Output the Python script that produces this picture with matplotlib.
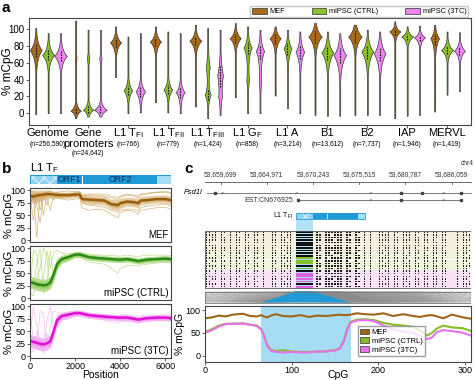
import numpy as np
import matplotlib
matplotlib.use('Agg')
import matplotlib.pyplot as plt
from matplotlib.patches import Rectangle, Patch, Polygon
from matplotlib.collections import LineCollection
import matplotlib.transforms as mtransforms

plt.rcParams['font.family'] = ['Liberation Sans', 'DejaVu Sans']
plt.rcParams['mathtext.fontset'] = 'custom'
plt.rcParams['mathtext.rm'] = 'Liberation Sans'
plt.rcParams['mathtext.it'] = 'Liberation Sans:italic'

# ---------------- DATA: panel a ----------------
groups = ["Genome", "Gene\npromoters", "L1 T$_{\\rm FI}$", "L1 T$_{\\rm FII}$", "L1 T$_{\\rm FIII}$",
          "L1 G$_{\\rm F}$", "L1 A", "B1", "B2", "IAP", "MERVL"]
group_n = ["(n=256,590)", "(n=24,642)", "(n=766)", "(n=779)", "(n=1,424)", "(n=858)",
           "(n=3,214)", "(n=13,612)", "(n=7,737)", "(n=1,946)", "(n=1,419)"]
cell_types = ["MEF", "miPSC (CTRL)", "miPSC (3TC)"]

# per cell type: mode, half width, upper spread, lower spread, min, max, second mode, its width, its spread
mef_center = [75, 3, 84, 85, 86, 89, 89, 91, 91, 97, 89]
mef_width = [0.15, 0.13, 0.14, 0.14, 0.15, 0.14, 0.14, 0.17, 0.17, 0.14, 0.11]
mef_sup = [9, 5, 6, 6, 6, 6, 6, 8, 8, 4, 7]
mef_sdn = [10, 4, 7, 7, 7, 7, 8, 9, 9, 5, 10]
mef_min = [-1, -6, 43, 13, 8, 19, 21, -2, -2, -6, 2]
mef_max = [101, 110, 103, 103, 105, 107, 103, 107, 105, 109, 105]
mef_c2 = [50, 65, 50, 50, 50, 50, 50, 50, 50, 50, 50]
mef_w2 = [0, 0.02, 0, 0, 0, 0, 0, 0, 0, 0, 0]
mef_s2 = [10, 12, 10, 10, 10, 10, 10, 10, 10, 10, 10]

ctrl_center = [69, 4, 27, 28, 22, 78, 77, 72, 73, 91, 75]
ctrl_width = [0.15, 0.13, 0.11, 0.11, 0.07, 0.10, 0.10, 0.15, 0.15, 0.15, 0.15]
ctrl_sup = [8, 5, 7, 7, 8, 8, 8, 9, 9, 4, 6]
ctrl_sdn = [8, 4, 7, 7, 8, 10, 10, 11, 11, 5, 6]
ctrl_min = [0, -4, 0, 1, -6, 0, 6, -3, -2, -3, 22]
ctrl_max = [95, 99, 91, 97, 101, 103, 99, 97, 99, 103, 97]
ctrl_c2 = [50, 65, 50, 50, 55, 40, 50, 50, 50, 50, 50]
ctrl_w2 = [0, 0.03, 0, 0, 0.05, 0.03, 0, 0, 0, 0, 0]
ctrl_s2 = [10, 8, 10, 10, 14, 18, 10, 10, 10, 10, 10]

tc_center = [68, 4, 26, 25, 45, 74, 73, 69, 71, 90, 74]
tc_width = [0.16, 0.16, 0.12, 0.11, 0.07, 0.10, 0.11, 0.16, 0.15, 0.14, 0.14]
tc_sup = [8, 5, 7, 7, 16, 9, 9, 10, 10, 4, 6]
tc_sdn = [8, 4, 8, 8, 18, 12, 11, 12, 12, 5, 6]
tc_min = [0, -4, 1, 0, -2, 0, 0, -3, -2, -2, 26]
tc_max = [95, 99, 95, 95, 99, 99, 97, 95, 97, 104, 96]
tc_c2 = [50, 65, 50, 50, 20, 40, 50, 50, 50, 50, 50]
tc_w2 = [0, 0.03, 0, 0, 0.03, 0.025, 0, 0, 0, 0, 0]
tc_s2 = [10, 8, 10, 10, 10, 18, 10, 10, 10, 10, 10]

# ---------------- DATA: panel b ----------------
pos_b = [0, 150, 300, 450, 600, 750, 900, 1050, 1200, 1400, 1700, 2000, 2200, 2300,
         2600, 3000, 3300, 3600, 3900, 4000, 4300, 4600, 4800, 4900, 5200, 5600, 6000, 6250]
mef_mean = [88, 87, 89, 90, 91, 92, 92, 91, 90, 90, 90, 91, 91, 82, 81, 80, 79, 72, 70, 74, 77, 76, 74, 79, 80, 82, 82, 80]
mef_spread = [12, 14, 14, 12, 10, 8, 8, 7, 7, 6, 6, 6, 6, 9, 9, 9, 9, 10, 11, 10, 9, 9, 10, 9, 8, 8, 8, 9]
mef_thin = [
    [92, 40, 85, 60, 95, 96, 97, 95, 94, 93, 92, 94, 95, 75, 70, 68, 66, 60, 55, 60, 62, 62, 58, 65, 68, 70, 72, 68],
    [60, 95, 5, 90, 88, 70, 93, 92, 88, 85, 86, 88, 90, 88, 90, 90, 88, 85, 80, 86, 90, 88, 85, 90, 92, 95, 95, 93],
    [98, 97, 70, 35, 90, 85, 60, 90, 85, 82, 80, 82, 84, 65, 60, 62, 60, 52, 45, 55, 60, 58, 52, 60, 62, 65, 66, 62],
    [85, 80, 95, 92, 50, 96, 90, 80, 96, 97, 98, 97, 97, 92, 92, 92, 92, 88, 85, 88, 92, 90, 88, 92, 94, 96, 97, 95],
]
ctrl_mean = [32, 31, 28, 27, 26, 27, 32, 48, 68, 78, 82, 87, 87, 86, 82, 80, 79, 78, 77, 77, 78, 76, 74, 75, 77, 78, 79, 78]
ctrl_spread = [12, 12, 12, 12, 12, 12, 12, 14, 12, 8, 7, 6, 6, 6, 6, 6, 6, 6, 6, 6, 6, 6, 6, 6, 6, 6, 6, 6]
ctrl_thin = [
    [20, 95, 90, 15, 40, 95, 60, 92, 95, 90, 88, 90, 92, 90, 88, 86, 86, 85, 84, 84, 86, 84, 82, 84, 86, 86, 86, 85],
    [60, 20, 70, 98, 10, 30, 95, 40, 75, 70, 75, 82, 82, 80, 72, 70, 68, 60, 50, 60, 65, 66, 64, 66, 68, 70, 72, 70],
    [10, 5, 40, 60, 100, 80, 20, 35, 60, 72, 78, 85, 86, 84, 80, 78, 76, 75, 74, 74, 76, 73, 70, 72, 74, 75, 76, 75],
]
tc_mean = [31, 29, 27, 25, 24, 26, 30, 50, 72, 80, 83, 86, 86, 85, 82, 80, 79, 78, 77, 77, 77, 75, 73, 74, 76, 77, 77, 76]
tc_spread = [13, 13, 13, 13, 13, 13, 13, 14, 12, 8, 7, 6, 6, 6, 6, 6, 6, 6, 6, 6, 6, 6, 6, 6, 6, 6, 6, 6]
tc_thin = [
    [95, 30, 20, 90, 85, 15, 60, 90, 88, 85, 87, 90, 90, 88, 85, 84, 83, 82, 80, 82, 83, 80, 78, 80, 82, 82, 83, 82],
    [40, 98, 60, 10, 30, 70, 100, 45, 70, 72, 74, 80, 82, 80, 76, 74, 72, 70, 66, 68, 70, 68, 64, 68, 70, 71, 72, 70],
    [15, 8, 50, 35, 5, 45, 25, 40, 62, 76, 80, 84, 85, 84, 81, 80, 79, 78, 76, 77, 78, 76, 73, 75, 77, 78, 78, 77],
]
l1_segments_b = [("5'UTR", 0, 1200), ("ORF1", 1200, 2300), ("ORF2", 2330, 5650), ("3'UTR", 5650, 6250)]

# ---------------- DATA: panel c ----------------
g0, g1 = 53657932, 53688256
coord_ticks = [53659699, 53664971, 53670243, 53675515, 53680787, 53686059]
fsd_start = 53658160
fsd_chevrons = [53659870, 53668306, 53676742, 53685064]
fsd_exons = [53659072, 53680277, 53682671, 53687117]
est_start, est_end = 53668534, 53687117
est_chevrons = [53676742, 53685064]
est_exons = [53668534, 53680277, 53687117]
l1_utr = (53668306, 53670244)
l1_orf = (53670244, 53675374)
l1_orf_gap = 53671840
l1_end = 53676172

mef_rows = [
    "## # ## # ## #  ## #  ## ####        #  ###### ## ## # #  ## # ## ### ## ## ## ##   # ## #",
    "#### #  # #  ## ## #  ## # ##        ## ## ### ## #  # #  #### #  ### #  ## ## ##   # ####",
    "# ## ## # ## ## #  #  #  ####        ## ###### #  ## # #  # ## ## # # ## #  ## #    # # ##",
    "#### ## # ## #  ## #  ## ## #        ## ### ## ## ## # #  #### ## ### ## ## #  ##   # ####",
    "##   ## # ## ## ## #  ## ####        #  ###### ## ## # #  ## # ## ##  ## ## ## ##   # ## #",
    "#### #  # ## ## #  #  ## ####        ## ## ### #  ## # #  #### #  ### ## #  ## ##   # ####",
    "# ## ## # #  ## ## #  #  # ##        ## ###### ## #  # #  # ## ## ### #  ## ## #    # ## #",
    "#### ## # ## ## ## #  ## ####        ## ###### ## ## # #  #### ## # # ## ## ## ##   # ####",
]
ctrl_rows = [
    "## # #  # ## #  ## #  ## # ##        #  ## ### ## #  # #  ## # ## # # ## #  ## ##   # ## #",
    "#  # ## # #  ## #  #  ## ## #        ## ###  # #  ## # #  # ## #  ### #  ## #  ##   # # ##",
    "#### #  # ## #  ## #  #  ####        ## # #### ## ## # #  #### ## ##  ## ## ## #    # ####",
    "# ## ## # #  ## #  #  ## # ##        #  ###### #  #  # #  ## # ## # # #  ## ## ##   # ## #",
    "##   #  # ## ## ## #  ## ## #        ## ## ### ## ## # #  # ## #  ### ## #  #  ##   # # ##",
    "#### ## # #  #  ## #  #  ####        ## ###### ## #  # #  #### ## ### ## ## ## #    # ####",
    "# #  ## # ## ## #  #  ## # ##        #  ### ## #  ## # #  ## # ## # # #  ## ## ##   # ## #",
]
tc_rows = [
    "## # #  # ## #  ## #  ## ## #        ## ## ### ## #  # #  # ## ## ### ## #  ## ##   # ## #",
    "#  # ## # #  ## #  #  #  # ##        #  ###### #  ## # #  ## # #  # # ## ## #  ##   # # ##",
    "#### #  # ## ## ## #  ## ####        ## # #### ## ## # #  #### ## ### #  ## ## #    # ####",
    "# ## ## # #  #  #  #  ## # ##        ## ### ## #  #  # #  # ## ## ##  ## ## ## ##   # ## #",
    "##   #  # ## ## ## #  #  ## #        #  ## ### ## ## # #  ## # #  ### ## #  ## ##   # # ##",
    "#### ## # #  ## #  #  ## ####        ## ###### #  #  # #  #### ## # # ## ## ## #    # ####",
    "# #  ## # ## #  ## #  ## # ##        #  ### ## ## ## # #  ## # ## ### #  ## #  ##   # ## #",
]
l1_state_mef = "KKKKKKKK"
l1_state_ctrl = "KKGGGKG"
l1_state_tc = "KPPPPKP"
cpg_seg_edges = [53657932, 53660782, 53664202, 53668306, 53670244, 53673322, 53677882, 53682442, 53688256]
cpg_seg_counts = [20, 22, 23, 103, 35, 30, 35, 39]
l1_cpg_range = (65, 168)

cpg_x = [0, 8, 16, 24, 32, 44, 52, 60, 65, 68, 72, 76, 82, 90, 100, 110, 120, 130, 140, 150,
         156, 160, 164, 168, 175, 185, 195, 206, 217, 229, 240, 248, 256, 262, 268, 275, 285, 298, 307]
mef_cpg = [82, 84, 88, 86, 90, 92, 87, 86, 89, 86, 84, 88, 91, 87, 86, 89, 85, 88, 87, 89,
           90, 89, 89, 90, 93, 91, 90, 93, 87, 91, 87, 85, 88, 89, 86, 82, 90, 84, 81]
ctrl_cpg = [52, 58, 66, 70, 70, 71, 68, 66, 58, 45, 22, 13, 10, 12, 9, 8, 8, 9, 10, 12,
            17, 32, 58, 74, 79, 80, 78, 72, 68, 66, 63, 55, 44, 50, 60, 66, 62, 60, 54]
tc_cpg = [50, 56, 64, 69, 70, 70, 68, 65, 57, 44, 20, 11, 8, 7, 8, 7, 7, 9, 9, 11,
          16, 30, 56, 72, 77, 78, 76, 66, 58, 53, 50, 44, 36, 40, 52, 56, 54, 50, 44]

# ---------------- style ----------------
col_mef, col_ctrl, col_tc = '#A86B1D', '#8CBF2B', '#EE84EE'
W, H = 474, 380
fig = plt.figure(figsize=(W / 100, H / 100), dpi=100)


def rect(x0, y0, x1, y1):
    return [x0 / W, 1 - y1 / H, (x1 - x0) / W, (y1 - y0) / H]


def fy(ypx):
    return 1 - ypx / H


def style_axes(ax, fs=6.5):
    for s in ax.spines.values():
        s.set_color('#444')
        s.set_linewidth(0.8)
    ax.tick_params(labelsize=fs, length=2.2, width=0.6, color='#444', pad=1.2)


# ================= panel a =================
axa = fig.add_axes(rect(29, 18, 471, 125))
style_axes(axa, 7)
axa.set_xlim(-0.48, 10.6)
axa.set_ylim(-14, 113)
axa.set_yticks([0, 20, 40, 60, 80, 100])
axa.set_xticks(range(len(groups)))
axa.set_xticklabels([])
axa.set_ylabel('% mCpG', fontsize=8.5)
axa.yaxis.set_label_coords(-0.034, 0.5)

params = [
    (col_mef, mef_center, mef_width, mef_sup, mef_sdn, mef_min, mef_max, mef_c2, mef_w2, mef_s2),
    (col_ctrl, ctrl_center, ctrl_width, ctrl_sup, ctrl_sdn, ctrl_min, ctrl_max, ctrl_c2, ctrl_w2, ctrl_s2),
    (col_tc, tc_center, tc_width, tc_sup, tc_sdn, tc_min, tc_max, tc_c2, tc_w2, tc_s2),
]
offsets = [-0.31, 0.0, 0.31]
for k, (col, cen, wid, sup, sdn, vmin, vmax, c2, w2, s2) in enumerate(params):
    for i in range(len(groups)):
        x = i + offsets[k]
        y = np.linspace(vmin[i], vmax[i], 400)
        d = y - cen[i]
        prof = np.where(d >= 0, np.exp(-d / sup[i]), np.exp(d / sdn[i])) * wid[i]
        prof = prof + w2[i] * np.exp(-np.abs(y - c2[i]) / s2[i])
        prof = np.maximum(prof, 0.012)
        axa.fill_betweenx(y, x - prof, x + prof, facecolor=col, edgecolor='#2a2a2a', lw=0.45, zorder=2)
        axa.plot([x, x], [cen[i] - 0.8 * sdn[i], cen[i] + 0.8 * sup[i]], color='#111',
                 lw=0.8, ls=(0, (1.5, 1)), zorder=3)

blend = mtransforms.blended_transform_factory(axa.transData, fig.transFigure)
for i, (g, n) in enumerate(zip(groups, group_n)):
    if '\n' in g:
        a, b = g.split('\n')
        axa.text(i, fy(133), a, transform=blend, ha='center', va='center', fontsize=8)
        axa.text(i, fy(144), b, transform=blend, ha='center', va='center', fontsize=8)
        axa.text(i, fy(153.5), n, transform=blend, ha='center', va='center', fontsize=4.8)
    else:
        axa.text(i, fy(133), g, transform=blend, ha='center', va='center', fontsize=8)
        axa.text(i, fy(144), n, transform=blend, ha='center', va='center', fontsize=4.8)

handles = [Patch(facecolor=c, edgecolor='#333', lw=0.5) for c in (col_mef, col_ctrl, col_tc)]
fig.legend(handles, cell_types, loc='upper right', bbox_to_anchor=(472 / W, fy(2)), ncol=3,
           fontsize=5.3, frameon=True, edgecolor='#bbbbbb', fancybox=False, handlelength=2.0,
           handleheight=0.9, columnspacing=3.6, borderpad=0.25, handletextpad=0.4)

fig.text(2 / W, fy(8), 'a', fontsize=11, fontweight='bold', va='center')
fig.text(2 / W, fy(169), 'b', fontsize=11, fontweight='bold', va='center')
fig.text(184 / W, fy(169), 'c', fontsize=11, fontweight='bold', va='center')

# ================= panel b =================
xmax_b = 6250
axh = fig.add_axes(rect(30, 175, 171, 184))
axh.set_xlim(0, xmax_b)
axh.set_ylim(0, 1)
axh.axis('off')
plt.rcParams['hatch.color'] = 'white'
plt.rcParams['hatch.linewidth'] = 0.5
for name, s, e in l1_segments_b:
    if name == "5'UTR":
        axh.add_patch(Rectangle((s, 0), e - s, 1, facecolor='#8fd3f4', edgecolor='white', hatch='xxx', lw=0))
    elif name == "3'UTR":
        axh.add_patch(Rectangle((s, 0), e - s, 1, facecolor='#a9def6', lw=0))
    else:
        axh.add_patch(Rectangle((s, 0), e - s, 1, facecolor='#1f9ad6', lw=0))
        axh.text((s + e) / 2, 0.5, name, ha='center', va='center', fontsize=6.3, color='#0a2d5a')
axh.add_patch(Rectangle((0, 0), xmax_b, 1, fill=False, edgecolor='#1f9ad6', lw=0.8))
fig.text(30 / W, fy(168), 'L1 T$_{\\rm F}$', fontsize=8, va='center')

panels_b = [
    (188, 242, mef_mean, mef_spread, mef_thin, '#c9a25a', '#d2a85e', '#9a5d10', 'MEF'),
    (246, 300, ctrl_mean, ctrl_spread, ctrl_thin, '#a9d86c', '#7cc43c', '#2a8a1a', 'miPSC (CTRL)'),
    (304, 358, tc_mean, tc_spread, tc_thin, '#f6aef3', '#f07cee', '#e010d5', 'miPSC (3TC)'),
]
for j, (y0, y1, mean, spread, thin, thin_col, band_col, mean_col, lab) in enumerate(panels_b):
    ax = fig.add_axes(rect(30, y0, 171, y1))
    style_axes(ax, 6.5)
    ax.set_xlim(0, xmax_b)
    ax.set_ylim(-3, 104)
    ax.set_yticks([0, 25, 50, 75, 100])
    m = np.array(mean, float)
    sp = np.array(spread, float)
    for t in thin:
        ax.plot(pos_b, t, color=thin_col, lw=0.5, alpha=0.8)
    ax.fill_between(pos_b, np.clip(m - sp, 0, 100), np.clip(m + sp, 0, 100), color=band_col, alpha=0.55, lw=0)
    ax.fill_between(pos_b, np.clip(m - sp / 2, 0, 100), np.clip(m + sp / 2, 0, 100), color=band_col, alpha=0.6, lw=0)
    ax.plot(pos_b, mean, color=mean_col, lw=1.8)
    ax.text(0.98, 0.04, lab, transform=ax.transAxes, ha='right', va='bottom', fontsize=7)
    ax.set_ylabel('% mCpG', fontsize=8)
    ax.yaxis.set_label_coords(-0.115, 0.5)
    if j < 2:
        ax.set_xticks([])
    else:
        ax.set_xticks([0, 2000, 4000, 6000])
        ax.tick_params(axis='x', pad=0.8)
        ax.set_xlabel('Position', fontsize=7.5)
        ax.xaxis.set_label_coords(0.5, -0.22)

# ================= panel c =================
axT = fig.add_axes(rect(205, 160, 471, 305))
axT.set_xlim(g0, g1)
axT.set_ylim(305, 160)
axT.axis('off')

# coordinate ruler
axT.plot([g0, g1], [181.5, 181.5], color='#555', lw=0.6, clip_on=False)
for t in coord_ticks:
    axT.plot([t, t], [181.5, 183.5], color='#555', lw=0.6)
    axT.text(t, 178, f"{t:,}", ha='center', va='bottom', fontsize=4.8, color='#333')
axT.text(g1 + 300, 167, 'chr4', ha='right', va='bottom', fontsize=4.8, color='#333', clip_on=False)

# gene tracks
axT.plot([fsd_start, g1], [193, 193], color='#666', lw=0.6, clip_on=False)
for c in fsd_chevrons:
    axT.text(c, 193, '>', ha='center', va='center', fontsize=4.5, color='#555')
for e in fsd_exons:
    axT.plot(e, 193, marker='s', ms=1.6, color='#444')
axT.text(fsd_start - 500, 193, 'Fsd1l', ha='right', va='center', fontsize=5.5, style='italic', clip_on=False)
axT.plot([est_start, est_end], [200, 200], color='#666', lw=0.6)
for c in est_chevrons:
    axT.text(c, 200, '>', ha='center', va='center', fontsize=4.5, color='#555')
for e in est_exons:
    axT.plot(e, 200, marker='s', ms=1.6, color='#444')
axT.text(est_start - 600, 200, 'EST:CN676925', ha='right', va='center', fontsize=5, color='#333')

# L1 element
axT.add_patch(Rectangle((l1_utr[0], 213), l1_utr[1] - l1_utr[0], 6, facecolor='#8fd3f4',
                        edgecolor='white', hatch='xxx', lw=0, zorder=3))
axT.add_patch(Rectangle((l1_orf[0], 213), l1_orf[1] - l1_orf[0], 6, facecolor='#1f9ad6', lw=0, zorder=3))
axT.plot([l1_orf_gap, l1_orf_gap], [213, 219], color='white', lw=0.5, zorder=4)
axT.add_patch(Rectangle((l1_orf[1], 213), l1_end - l1_orf[1], 6, facecolor='#a9def6', lw=0, zorder=3))
axT.add_patch(Rectangle((l1_utr[0], 213), l1_end - l1_utr[0], 6, fill=False, edgecolor='#1f9ad6', lw=0.6, zorder=4))
axT.text(l1_utr[0] - 300, 216, 'L1 T$_{\\rm FI}$', ha='right', va='center', fontsize=5)

# methylation matrix
mat_top, mat_bot = 231, 288
all_rows = [(r, '#f5eedd', s) for r, s in zip(mef_rows, l1_state_mef)] + \
           [(r, '#eef5dc', s) for r, s in zip(ctrl_rows, l1_state_ctrl)] + \
           [(r, '#f8e3f8', s) for r, s in zip(tc_rows, l1_state_tc)]
nrows = len(all_rows)
row_h = (mat_bot - mat_top) / nrows
nbins = 89
binw = (g1 - g0) / nbins
for ri, (row, bg, st) in enumerate(all_rows):
    y = mat_top + ri * row_h
    axT.add_patch(Rectangle((g0, y), g1 - g0, row_h, facecolor=bg, lw=0, zorder=1))
axT.add_patch(Rectangle((l1_utr[0], 219), l1_utr[1] - l1_utr[0], mat_bot - 219,
                        facecolor='#a6dcf4', lw=0, alpha=0.85, zorder=2))
l1_cols = {'K': '#111111', 'G': '#7fbf2a', 'P': '#e060e0'}
for ri, (row, bg, st) in enumerate(all_rows):
    y = mat_top + ri * row_h
    row = row.ljust(nbins)[:nbins]
    for j, ch in enumerate(row):
        if ch == '#':
            axT.add_patch(Rectangle((g0 + (j + 0.3) * binw, y + 0.22 * row_h), 0.4 * binw, 0.56 * row_h,
                                    facecolor='#1a1a1a', lw=0, zorder=3))
    axT.add_patch(Rectangle((l1_utr[0], y + 0.15 * row_h), l1_utr[1] - l1_utr[0], 0.7 * row_h,
                            facecolor=l1_cols[st], lw=0, zorder=3))
axT.add_patch(Rectangle((g0, mat_top), g1 - g0, mat_bot - mat_top, fill=False, edgecolor='#555', lw=0.6, zorder=4))

# fan connecting genomic CpG positions to CpG index
cpg_g = []
for k, cnt in enumerate(cpg_seg_counts):
    a, b = cpg_seg_edges[k], cpg_seg_edges[k + 1]
    cpg_g.extend(list(a + (np.arange(cnt) + 0.5) * (b - a) / cnt))
cpg_g = np.array(cpg_g)
ncpg = len(cpg_g)
cx0, cx1 = 0, 307


def cpg_to_g(c):
    return g0 + (c - cx0) / (cx1 - cx0) * (g1 - g0)


fan_top, fan_bot = 291.5, 302.5
segs = [[(cpg_g[i], fan_top), (cpg_to_g(i + 0.5), fan_bot)] for i in range(ncpg)]
axT.add_collection(LineCollection(segs, colors='#8a8a8a', linewidths=0.4, zorder=2))
axT.add_patch(Polygon([(l1_utr[0], fan_top), (l1_utr[1], fan_top),
                       (cpg_to_g(l1_cpg_range[1]), fan_bot), (cpg_to_g(l1_cpg_range[0]), fan_bot)],
                      closed=True, facecolor='#1f9ad6', lw=0, zorder=3))
axT.add_patch(Rectangle((g0, fan_top), g1 - g0, fan_bot - fan_top, fill=False, edgecolor='#777', lw=0.6, zorder=4))

# CpG methylation profile
axc = fig.add_axes(rect(205, 306, 471, 362))
style_axes(axc, 6.5)
axc.set_xlim(cx0, cx1)
axc.set_ylim(-14, 109)
axc.set_yticks([0, 50, 100])
axc.set_xticks([0, 100, 200, 300])
axc.tick_params(axis='x', pad=0.8)
axc.axvspan(l1_cpg_range[0], l1_cpg_range[1], color='#a6dcf4', lw=0, zorder=0)
axc.plot(cpg_x, mef_cpg, color='#a0651a', lw=1.5, label='MEF')
axc.plot(cpg_x, ctrl_cpg, color='#86bb2a', lw=1.5, label='miPSC (CTRL)')
axc.plot(cpg_x, tc_cpg, color='#ea6fea', lw=1.5, label='miPSC (3TC)')
axc.set_ylabel('% mCpG', fontsize=7.5, labelpad=0.5)
axc.set_xlabel('CpG', fontsize=7.5)
axc.xaxis.set_label_coords(0.5, -0.14)
lh = [Patch(facecolor=c, edgecolor='#333', lw=0.5) for c in ('#a0651a', '#86bb2a', '#ea6fea')]
axc.legend(lh, cell_types, loc='lower left', bbox_to_anchor=(0.56, 0.04), fontsize=5.5, frameon=True,
           edgecolor='#888', fancybox=False, handlelength=1.2, handleheight=0.8, borderpad=0.3,
           labelspacing=0.15, handletextpad=0.3)

fig.savefig('out.png', dpi=100)
